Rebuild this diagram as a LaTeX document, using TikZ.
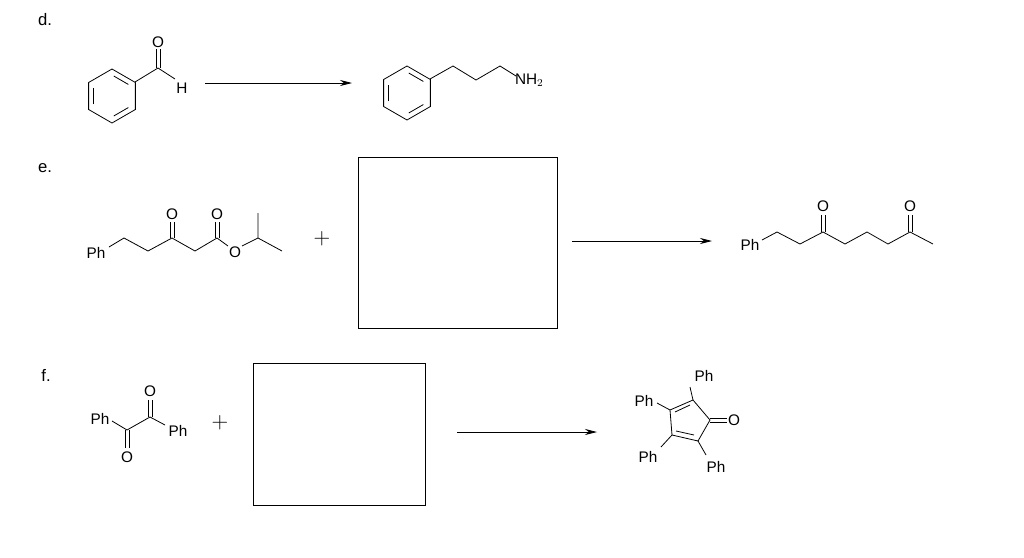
\documentclass[tikz,border=0pt]{standalone}
\usepackage{fontspec}
\setmainfont{Liberation Sans}
\usetikzlibrary{arrows.meta,calc}
\tikzset{benz/.pic={
    \draw (90:27)--(150:27)--(210:27)--(270:27)--(330:27)--(30:27)--cycle;
    \draw ($(90:21)!0.1!(30:21)$)--($(90:21)!0.9!(30:21)$);
    \draw ($(150:21)!0.1!(210:21)$)--($(150:21)!0.9!(210:21)$);
    \draw ($(270:21)!0.1!(330:21)$)--($(270:21)!0.9!(330:21)$);
  }}
\begin{document}
\begin{tikzpicture}[x=0.75pt,y=-0.75pt,line width=0.6pt,
  lab/.style={font=\fontsize{11.5}{12}\selectfont,inner sep=0.5pt},
  plus/.style={font=\fontsize{17}{17}\selectfont,inner sep=0pt},
  rxn/.style={-{Stealth[length=9pt,width=4.5pt]}},
  boxx/.style={draw,line width=0.8pt}]
\useasboundingbox (0,0) rectangle (1024,557);
% d
\node[lab,font=\fontsize{12.5}{13}\selectfont] (ld) at (45,20) {d.};
\pic at (112,96) {benz};
\draw (135,82)--(158,68);
\draw (156,68)--(156,49) (160,68)--(160,49);
\node[lab] (o1) at (158,42) {O};
\draw (158,68)--(175,79);
\node[lab] (h1) at (182,88) {H};
\coordinate (a1s) at (205,83); \coordinate (a1e) at (352,83);
\draw[rxn] (a1s)--(a1e);
\pic at (407,93) {benz};
\draw (430,79)--(453,66)--(476,80)--(500,66)--(516,76);
\node[lab,anchor=west] (nh2) at (514,80) {NH$_2$};
% e
\node[lab,font=\fontsize{12.5}{13}\selectfont] (le) at (45,168) {e.};
\node[lab] (ph1) at (96,253) {Ph};
\draw (109,247)--(124,238)--(148,251)--(172,238)--(195,251)--(217,238)--(228,246);
\draw (170,238)--(170,222) (174,238)--(174,222);
\node[lab] (o2) at (172,214) {O};
\draw (215,238)--(215,222) (219,238)--(219,222);
\node[lab] (o3) at (217,214) {O};
\node[lab] (o4) at (235,252) {O};
\draw (242,246)--(258,238)--(282,251) (258,238)--(258,213);
\node[plus] (p1) at (322,239) {$+$};
\node[boxx,minimum width=149.25pt,minimum height=128.25pt,anchor=north west] (b1) at (358,157) {};
\coordinate (a2s) at (572,241); \coordinate (a2e) at (712,241);
\draw[rxn] (a2s)--(a2e);
\node[lab] (ph2) at (750,245) {Ph};
\draw (762,240)--(777,232)--(800,244)--(823,232)--(845,244)--(867,232)--(888,244)--(910,232)--(933,244);
\draw (821,232)--(821,215) (825,232)--(825,215);
\node[lab] (o5) at (823,206) {O};
\draw (908,232)--(908,215) (912,232)--(912,215);
\node[lab] (o6) at (910,206) {O};
% f
\node[lab,font=\fontsize{12.5}{13}\selectfont] (lf) at (46,375) {f.};
\node[lab] (ph3) at (100,419) {Ph};
\draw (112,421)--(127,430)--(150,417)--(165,425);
\draw (125,430)--(125,448) (129,430)--(129,448);
\node[lab] (o7) at (127,457) {O};
\draw (148,417)--(148,400) (152,417)--(152,400);
\node[lab] (o8) at (150,391) {O};
\node[lab] (ph4) at (178,431) {Ph};
\node[plus] (p2) at (220,423) {$+$};
\node[boxx,minimum width=129pt,minimum height=106.5pt,anchor=north west] (b2) at (253,363) {};
\coordinate (a3s) at (457,432); \coordinate (a3e) at (597,432);
\draw[rxn] (a3s)--(a3e);
\draw (693,400)--(670,410)--(672,435)--(698,441)--(710,420)--cycle;
\draw (690,405)--(675,412);
\draw (676,431)--(694,435);
\draw (710,418)--(727,418) (710,422)--(727,422);
\node[lab] (o9) at (734,420) {O};
\draw (693,400)--(690,387);
\node[lab] (ph5) at (704,376) {Ph};
\draw (670,410)--(657,403);
\node[lab] (ph6) at (644,401) {Ph};
\draw (672,435)--(661,447);
\node[lab] (ph7) at (648,457) {Ph};
\draw (698,441)--(706,455);
\node[lab] (ph8) at (716,467) {Ph};
\end{tikzpicture}
\end{document}
